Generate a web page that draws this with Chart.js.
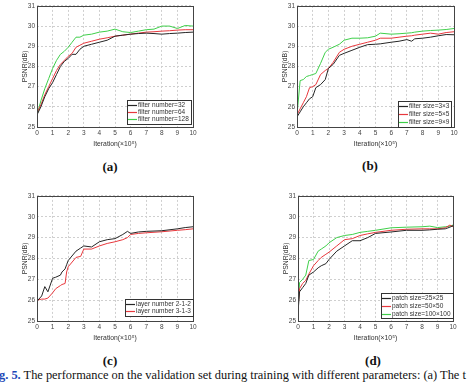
<!DOCTYPE html>
<html>
<head>
<meta charset="utf-8">
<script src="https://cdn.jsdelivr.net/npm/chart.js@4.4.1/dist/chart.umd.min.js"></script>
<style>
  body { margin: 0; background: #fff; width: 474px; height: 386px; overflow: hidden; position: relative; }
  .panel { position: absolute; }
  .tag { position: absolute; font: bold 13px "Liberation Serif", serif; color: #111; transform: translateX(-50%); }
  #caption { position: absolute; left: -1px; top: 368px; width: 480px; white-space: nowrap; overflow: hidden;
    font: 12.4px "Liberation Serif", serif; color: #111; }
  #caption b { color: #1c48b8; }
</style>
</head>
<body>
<canvas id="ca" class="panel" width="237" height="150" style="left:0;top:0"></canvas>
<canvas id="cb" class="panel" width="237" height="150" style="left:237px;top:0"></canvas>
<canvas id="cc" class="panel" width="237" height="154" style="left:0;top:190px"></canvas>
<canvas id="cd" class="panel" width="237" height="154" style="left:237px;top:190px"></canvas>
<div class="tag" style="left:110px;top:159px">(a)</div>
<div class="tag" style="left:370px;top:158px">(b)</div>
<div class="tag" style="left:110px;top:353px">(c)</div>
<div class="tag" style="left:373px;top:353px">(d)</div>
<div id="caption"><b>g. 5.</b> The performance on the validation set during training with different parameters: (a) The t</div>
<script>
// iterations (x10^5) and PSNR (dB)
var iterA = [0,0.25,0.5,0.75,1,1.25,1.5,1.75,2,2.25,2.5,2.75,3,3.5,4,4.5,5,5.5,6,6.5,7,7.5,8,8.5,9,9.5,10];
var filt32 = [25.6,26.0,26.5,26.9,27.2,27.6,28.0,28.25,28.4,28.6,28.6,28.85,29.0,29.1,29.2,29.3,29.5,29.55,29.6,29.63,29.65,29.63,29.6,29.63,29.65,29.68,29.7];
var filt64 = [25.7,26.1,26.6,27.0,27.4,27.8,28.1,28.3,28.5,28.65,28.95,29.05,29.15,29.25,29.35,29.42,29.5,29.55,29.6,29.65,29.7,29.72,29.75,29.77,29.8,29.82,29.82];
var filt128 = [25.6,26.3,26.9,27.4,27.9,28.3,28.6,28.75,28.95,29.2,29.45,29.45,29.55,29.6,29.7,29.75,29.85,29.72,29.68,29.75,29.82,29.85,30.0,30.0,29.88,30.03,30.0];

var iterB = [0,0.2,0.4,0.6,0.8,1,1.2,1.5,1.8,2,2.3,2.7,3,3.5,4,4.5,5,5.3,6,6.5,7,7.3,7.5,8,8.5,9,9.5,10];
var size3 = [25.5,25.75,26.0,26.2,26.4,26.5,26.95,27.1,27.35,27.9,28.1,28.55,28.65,28.8,28.95,29.08,29.1,29.12,29.2,29.25,29.33,29.25,29.37,29.4,29.45,29.52,29.58,29.57];
var size5 = [25.6,25.9,26.2,26.5,26.95,27.0,27.1,27.6,27.8,27.9,28.2,28.7,28.85,29.0,29.1,29.2,29.3,29.4,29.4,29.45,29.5,29.52,29.55,29.6,29.65,29.6,29.68,29.72];
var size9 = [25.6,27.3,27.35,27.5,27.55,27.6,27.65,28.15,28.7,28.85,28.95,29.1,29.3,29.4,29.4,29.42,29.5,29.65,29.6,29.62,29.65,29.67,29.7,29.75,29.78,29.8,29.83,29.88];

var iterC = [0,0.3,0.5,0.7,1,1.2,1.5,1.6,1.8,1.9,2,2.5,2.8,3,3.5,4,4.5,5,5.5,5.8,6,6.5,7,8,9,9.5,10];
var layer212 = [25.95,26.2,26.65,26.4,27.05,27.1,27.2,27.35,27.5,27.7,27.9,28.35,28.5,28.6,28.55,28.8,28.9,28.95,29.15,29.3,29.2,29.27,29.3,29.33,29.42,29.48,29.52];
var layer313 = [26.0,26.05,26.05,26.1,26.35,26.55,26.7,26.75,26.8,27.35,27.6,28.05,28.1,28.45,28.45,28.6,28.72,28.8,28.9,29.0,29.15,29.2,29.23,29.28,29.35,29.38,29.42];

var iterD = [0,0.1,0.3,0.5,0.7,1,1.3,1.5,1.8,2,2.5,3,3.5,4,4.5,5,6,7,8,8.5,9,9.5,9.8,10];
var patch25 = [25.4,26.4,26.6,26.8,27.2,27.35,27.55,27.65,27.75,27.95,28.35,28.6,28.85,28.85,29.0,29.2,29.27,29.35,29.35,29.37,29.4,29.42,29.5,29.57];
var patch50 = [25.6,26.55,26.8,26.95,27.25,27.65,27.9,28.05,28.2,28.3,28.6,28.9,28.95,29.1,29.18,29.25,29.35,29.4,29.42,29.42,29.42,29.47,29.6,29.52];
var patch100 = [25.5,26.85,27.0,27.2,27.9,27.95,28.35,28.45,28.6,28.75,29.0,29.1,29.15,29.25,29.3,29.35,29.47,29.5,29.52,29.55,29.48,29.52,29.55,29.6];

var xTicks = [0,1,2,3,4,5,6,7,8,9,10];
var yTicks = [25,26,27,28,29,30,31];

const BLACK = '#262626', RED = '#e8383d', GREEN = '#3fcf4a';

function pts(xs, ys) {
  return xs.map((x, k) => ({x: x, y: ys[k]}));
}

// frame + legend box drawn inside the plot area
const boxPlugin = {
  id: 'boxLegend',
  afterDraw(chart, args, opts) {
    const ctx = chart.ctx, a = chart.chartArea;
    ctx.save();
    ctx.strokeStyle = '#444';
    ctx.lineWidth = 1;
    ctx.strokeRect(Math.round(a.left) + 0.5, Math.round(a.top) + 0.5,
      Math.round(a.right - a.left), Math.round(a.bottom - a.top));
    ctx.font = '6.5px "Liberation Sans", Arial';
    const sets = chart.data.datasets;
    const tw = Math.max(...sets.map(d => ctx.measureText(d.label).width));
    const rowH = opts.rowH;
    const w = Math.round(11 + tw + 2), h = Math.round(sets.length * rowH + 2);
    const x = Math.round(a.right - opts.right - w), y = Math.round(a.bottom - opts.bottom - h);
    ctx.fillStyle = '#fff';
    ctx.fillRect(x, y, w, h);
    ctx.strokeStyle = '#333';
    ctx.strokeRect(x + 0.5, y + 0.5, w, h);
    sets.forEach((d, k) => {
      const cy = Math.round(y + 1 + rowH * (k + 0.5)) + 0.5;
      ctx.strokeStyle = d.borderColor;
      ctx.lineWidth = 1.2;
      ctx.beginPath();
      ctx.moveTo(x + 1, cy);
      ctx.lineTo(x + 10, cy);
      ctx.stroke();
      ctx.fillStyle = '#333';
      ctx.textBaseline = 'middle';
      ctx.fillText(d.label, x + 11, cy);
    });
    ctx.restore();
  }
};

function makeChart(id, canvasLeft, canvasTop, canvasH, plot, datasets, leg) {
  const tickFont = {family: '"Liberation Sans", Arial', size: 6.5};
  return new Chart(document.getElementById(id), {
    type: 'line',
    data: {datasets: datasets.map(d => ({
      label: d.label, data: d.data, borderColor: d.color, borderWidth: 1,
      pointRadius: 0, tension: 0, fill: false
    }))},
    options: {
      responsive: false,
      animation: false,
      devicePixelRatio: 1,
      layout: {padding: {
        left: plot.L - canvasLeft - 16,
        right: canvasLeft + 237 - plot.R,
        top: plot.T - canvasTop,
        bottom: canvasTop + canvasH - plot.B - 23
      }},
      plugins: {legend: {display: false}, tooltip: {enabled: false}, boxLegend: leg},
      scales: {
        x: {
          type: 'linear', min: 0, max: 10,
          afterFit: s => { s.height = 23; },
          afterBuildTicks: s => { s.ticks = xTicks.map(v => ({value: v})); },
          grid: {color: '#cfcfcf', drawTicks: false},
          border: {display: false, dash: [2, 2]},
          ticks: {font: tickFont, color: '#444', padding: 2.5, maxRotation: 0},
          title: {display: true, text: 'Iteration(×10⁵)', font: {family: '"Liberation Sans", Arial', size: 6.8},
            color: '#333', padding: {top: 0, bottom: 2}}
        },
        y: {
          min: 25, max: 31,
          afterFit: s => { s.width = 16; },
          afterBuildTicks: s => { s.ticks = yTicks.map(v => ({value: v})); },
          grid: {color: '#cfcfcf', drawTicks: false},
          border: {display: false, dash: [2, 2]},
          ticks: {font: tickFont, color: '#444', padding: 2},
          title: {display: true, text: 'PSNR(dB)', font: {family: '"Liberation Sans", Arial', size: 6.8},
            color: '#333', padding: {top: 0, bottom: 0}}
        }
      }
    },
    plugins: [boxPlugin]
  });
}

makeChart('ca', 0, 0, 150, {L: 37, R: 193, T: 3, B: 127}, [
  {label: 'filter number=32', data: pts(iterA, filt32), color: BLACK},
  {label: 'filter number=64', data: pts(iterA, filt64), color: RED},
  {label: 'filter number=128', data: pts(iterA, filt128), color: GREEN}
], {right: 2, bottom: 3, rowH: 7.3});

makeChart('cb', 237, 0, 150, {L: 297, R: 454, T: 3, B: 127}, [
  {label: 'filter size=3×3', data: pts(iterB, size3), color: BLACK},
  {label: 'filter size=5×5', data: pts(iterB, size5), color: RED},
  {label: 'filter size=9×9', data: pts(iterB, size9), color: GREEN}
], {right: 3, bottom: 0, rowH: 8});

makeChart('cc', 0, 190, 154, {L: 37, R: 193, T: 195, B: 321}, [
  {label: 'layer number 2-1-2', data: pts(iterC, layer212), color: BLACK},
  {label: 'layer number 3-1-3', data: pts(iterC, layer313), color: RED}
], {right: 0, bottom: 5, rowH: 7.5});

makeChart('cd', 237, 190, 154, {L: 298, R: 453, T: 195, B: 321}, [
  {label: 'patch size=25×25', data: pts(iterD, patch25), color: BLACK},
  {label: 'patch size=50×50', data: pts(iterD, patch50), color: RED},
  {label: 'patch size=100×100', data: pts(iterD, patch100), color: GREEN}
], {right: 0, bottom: 3, rowH: 7.8});
</script>
</body>
</html>
